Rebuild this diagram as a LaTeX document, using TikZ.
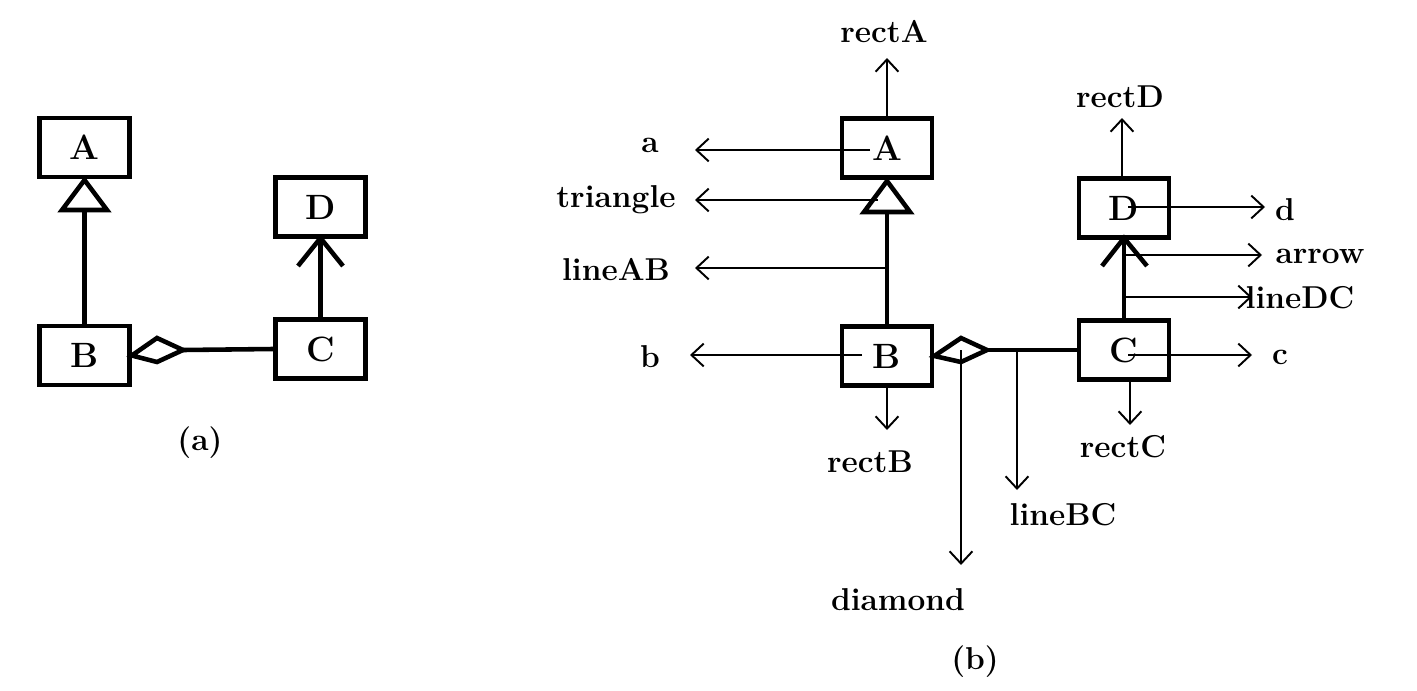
\documentclass[tikz,border=0pt]{standalone}
\usetikzlibrary{arrows.meta}
\begin{document}
\begin{tikzpicture}[x=0.02cm,y=-0.02cm,
  box/.style={draw,line width=2.6pt,minimum width=1.8cm,minimum height=1.18cm,inner sep=0pt,font=\fontsize{20}{22}\selectfont\bfseries},
  thick2/.style={line width=2.6pt},
  lab/.style={font=\fontsize{18}{20}\selectfont\bfseries,inner sep=0pt},
  ptr/.style={line width=1.1pt,-{Straight Barb[length=7pt,width=13pt,line width=1.1pt]}}]
\useasboundingbox (0,0) rectangle (1417,690);
% ---------- (a)
\node[box] (aA) at (84.5,147.5) {A};
\node[box] (aB) at (84.5,355.5) {B};
\node[box] (aC) at (320.5,349) {C};
\node[box] (aD) at (320.5,207) {D};
\draw[thick2,line join=miter] (84.5,180) -- (62,210) -- (107,210) -- cycle;
\draw[thick2] (84.5,210) -- (aB.north);
\draw[thick2] (aB.east) -- (157,338) -- (183,350) -- (157,362) -- cycle;
\draw[thick2] (183,350) -- (aC.west);
\draw[thick2] (aC.north) -- (aD.south);
\draw[thick2] (298,266) -- (320.5,238) -- (343,266);
\node[lab] (la) at (200,443) {(a)};
% ---------- (b)
\node[box] (A) at (887,148) {A};
\node[box] (B) at (887,356) {B};
\node[box] (C) at (1124,350) {C};
\node[box] (D) at (1124,208) {D};
\draw[thick2,line join=miter] (887,181) -- (864,212) -- (910,212) -- cycle;
\draw[thick2] (887,212) -- (B.north);
\draw[thick2] (B.east) -- (961,338) -- (987,350) -- (961,362) -- cycle;
\draw[thick2] (987,350) -- (C.west);
\draw[thick2] (C.north) -- (D.south);
\draw[thick2] (1102,266) -- (1124,238) -- (1147,266);
% labels
\node[lab] (rectA) at (884,32) {rectA};
\node[lab] (a) at (650,145) {a};
\node[lab] (tri) at (616,200) {triangle};
\node[lab] (lAB) at (616,270) {lineAB};
\node[lab] (b) at (650,357) {b};
\node[lab] (rectB) at (870,462) {rectB};
\node[lab] (dia) at (898,600) {diamond};
\node[lab] (lBC) at (1063,515) {lineBC};
\node[lab] (rectC) at (1123,447) {rectC};
\node[lab] (c) at (1280,357) {c};
\node[lab] (lDC) at (1300,298) {lineDC};
\node[lab] (arr) at (1320,256) {arrow};
\node[lab] (d) at (1285,210) {d};
\node[lab] (rectD) at (1120,97) {rectD};
\node[lab] (lb) at (975,662) {(b)};
% pointers
\coordinate (pA) at (887,58);
\draw[ptr] (A.north) -- (pA);
\coordinate (pa) at (695,150); \draw[ptr] (870,150) -- (pa);
\coordinate (pt) at (695,200); \draw[ptr] (878,200) -- (pt);
\coordinate (pl) at (695,268); \draw[ptr] (887,268) -- (pl);
\coordinate (pb) at (690,355); \draw[ptr] (862,355) -- (pb);
\coordinate (pB) at (887,430); \draw[ptr] (B.south) -- (pB);
\coordinate (pd) at (961,565); \draw[ptr] (961,350) -- (pd);
\coordinate (pBC) at (1017,490); \draw[ptr] (1017,350) -- (pBC);
\coordinate (pC) at (1130,425); \draw[ptr] (1130,381) -- (pC);
\coordinate (pc) at (1252,355); \draw[ptr] (1128,355) -- (pc);
\coordinate (pDC) at (1252,297); \draw[ptr] (1124,297) -- (pDC);
\coordinate (par) at (1262,255); \draw[ptr] (1124,255) -- (par);
\coordinate (pdd) at (1265,207); \draw[ptr] (1128,207) -- (pdd);
\coordinate (pD) at (1122,118); \draw[ptr] (1122,178) -- (pD);
\end{tikzpicture}
\end{document}
